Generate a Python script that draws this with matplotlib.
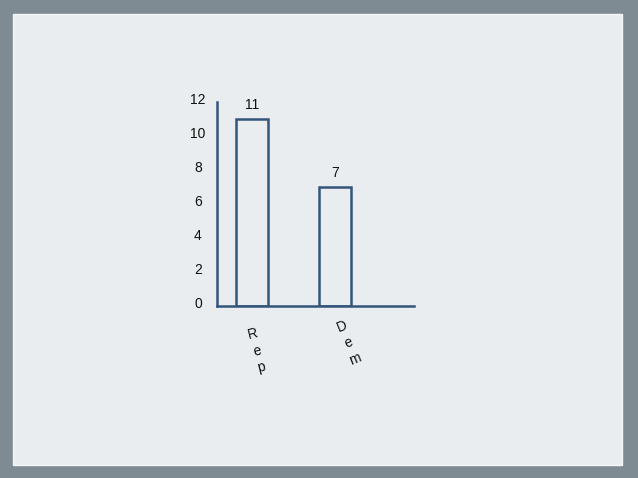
import matplotlib
matplotlib.use("Agg")
import matplotlib.pyplot as plt
from matplotlib.patches import Rectangle
from matplotlib import transforms

plt.rcParams['font.family'] = ['Liberation Sans', 'DejaVu Sans']

# data
parties = ["Rep", "Dem"]
counts = [11, 7]
y_ticks = [0, 2, 4, 6, 8, 10, 12]

line_col = "#34557a"
txt_col = "#111111"

fig = plt.figure(figsize=(6.38, 4.78), dpi=100)
fig.patch.set_facecolor("#7f8b93")
# slide panel
fig.patches.append(Rectangle((13/638, 1 - 465/478), (622-13)/638, (465-14)/478,
                             transform=fig.transFigure, facecolor="#e9edef",
                             edgecolor="#f4f6f7", lw=1.0, zorder=-10))

ax = fig.add_axes([217/638, 172/478, (414-217)/638, 204/478])
ax.patch.set_alpha(0)

x = range(len(parties))
ax.bar(x, counts, width=0.386, facecolor="none", edgecolor=line_col, lw=1.8)
ax.set_xlim(-0.42, 1.95)
ax.set_ylim(0, 12)

for s in ["top", "right"]:
    ax.spines[s].set_visible(False)
for s in ["left", "bottom"]:
    ax.spines[s].set_color(line_col)
    ax.spines[s].set_linewidth(1.8)

ax.set_yticks(y_ticks)
ax.set_yticklabels([str(t) for t in y_ticks], fontsize=10, color=txt_col)
ax.tick_params(axis="y", length=0, pad=13.7)
shift = transforms.ScaledTranslation(0, 3/100, fig.dpi_scale_trans)
for lab in ax.get_yticklabels():
    lab.set_horizontalalignment("center")
    lab.set_transform(lab.get_transform() + shift)
ax.set_xticks([])

for i, v in enumerate(counts):
    ax.annotate(str(v), (i, v), xytext=(0, 10), textcoords="offset points",
                ha="center", va="center", fontsize=10, color=txt_col)

# stacked, tilted category labels
trans = transforms.blended_transform_factory(ax.transData, ax.transAxes)
rots = [14, 22]
dx = [0.06, 0.16]
dy = [-0.22, -0.18]
for i, name in enumerate(parties):
    ax.text(i + dx[i], dy[i], "\n".join(name), transform=trans, rotation=rots[i],
            ha="center", va="center", multialignment="center", fontsize=10,
            linespacing=1.3, color=txt_col, rotation_mode="anchor")

fig.savefig("out.png", dpi=100, facecolor=fig.get_facecolor())
